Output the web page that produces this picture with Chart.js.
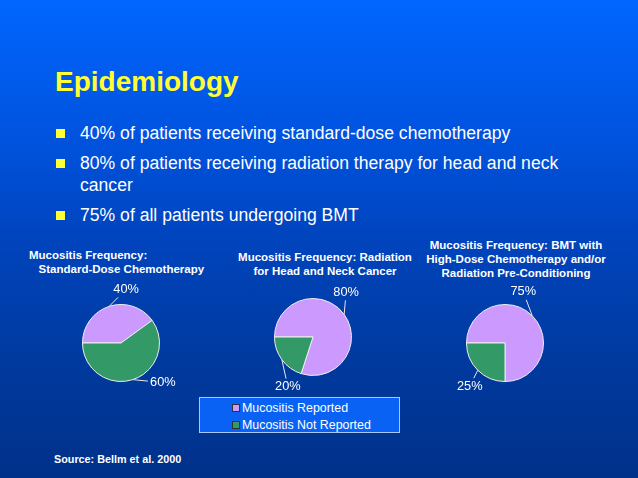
<!DOCTYPE html>
<html>
<head>
<meta charset="utf-8">
<script src="https://cdn.jsdelivr.net/npm/chart.js@4.4.0/dist/chart.umd.min.js"></script>
<style>
  html, body { margin: 0; padding: 0; }
  body {
    width: 638px; height: 478px; position: relative; overflow: hidden;
    background: linear-gradient(to bottom, #0066ff 0%, #0052dd 30%, #0044bd 50%, #003a9f 75%, #00318a 100%);
    font-family: "Liberation Sans", Arial, sans-serif;
    color: #fff;
  }
  .abs { position: absolute; }
  #title { left: 55px; top: 66px; font-size: 28px; font-weight: bold; color: #ffff33; }
  .bullet { left: 80px; font-size: 17.6px; line-height: 22px; }
  .bullet::before {
    content: ""; position: absolute; left: -24px; top: 7px; width: 9px; height: 9px; background: #ffff33;
  }
  .ctitle { font-size: 11.5px; font-weight: bold; line-height: 14px; white-space: pre; }
  canvas { position: absolute; }
  #legend {
    left: 199px; top: 397px; width: 201px; height: 36px;
    background: #0a62f5; border: 1px solid #a9c8ff; box-sizing: border-box;
    font-size: 12.4px;
  }
  .litem { position: absolute; left: 42px; line-height: 14px; }
  .litem span.sw {
    position: absolute; left: -10px; top: 3px; width: 6px; height: 6px; border: 1px solid #333;
  }
  #source { left: 54px; top: 453px; font-size: 10.8px; font-weight: bold; }
</style>
</head>
<body>
<div id="title" class="abs">Epidemiology</div>
<div class="abs bullet" style="top:122px">40% of patients receiving standard-dose chemotherapy</div>
<div class="abs bullet" style="top:152px">80% of patients receiving radiation therapy for head and neck<br>cancer</div>
<div class="abs bullet" style="top:204px">75% of all patients undergoing BMT</div>

<div class="abs ctitle" style="left:29px;top:248px">Mucositis Frequency:
   Standard-Dose Chemotherapy</div>
<div class="abs ctitle" style="left:225px;width:200px;top:250px;text-align:center">Mucositis Frequency: Radiation
for Head and Neck Cancer</div>
<div class="abs ctitle" style="left:416px;width:200px;top:238px;text-align:center">Mucositis Frequency: BMT with
High-Dose Chemotherapy and/or
Radiation Pre-Conditioning</div>

<canvas id="pie1" width="200" height="150" style="left:21px;top:268px"></canvas>
<canvas id="pie2" width="200" height="150" style="left:213px;top:262px"></canvas>
<canvas id="pie3" width="200" height="150" style="left:405px;top:268px"></canvas>

<div id="legend" class="abs"></div>
<div id="source" class="abs">Source: Bellm et al. 2000</div>

<script>
// --- DATA ---
const categories = ['Mucositis Reported', 'Mucositis Not Reported'];
const standardDose = [40, 60];
const headNeck = [80, 20];
const bmt = [75, 25];
const valueLabels = ['40%', '60%', '80%', '20%', '75%', '25%'];

const sliceColors = ['#cc99ff', '#339966'];

// label placement relative to the slice anchor on the rim (text centre offset)
const labelShift1 = [[17, -17], [30, 3]];
const labelShift2 = [[2, -22], [6, 27]];
const labelShift3 = [[-9, -24], [-8, 16]];

// --- LEADER LABEL PLUGIN ---
const leaderLabels = {
    id: 'leaderLabels',
    afterDatasetsDraw(chart, args, opts) {
        const ctx = chart.ctx;
        const arcs = chart.getDatasetMeta(0).data;
        ctx.save();
        ctx.font = '12.8px "Liberation Sans", Arial, sans-serif';
        ctx.fillStyle = '#ffffff';
        ctx.strokeStyle = '#e8e8e8';
        ctx.lineWidth = 1;
        ctx.textAlign = 'center';
        ctx.textBaseline = 'middle';
        arcs.forEach((arc, i) => {
            const mid = (arc.startAngle + arc.endAngle) / 2;
            const ax = arc.x + Math.cos(mid) * arc.outerRadius;
            const ay = arc.y + Math.sin(mid) * arc.outerRadius;
            const tx = ax + opts.shift[i][0];
            const ty = ay + opts.shift[i][1];
            // end of leader: where the segment meets the text box
            const hw = 15, hh = 8;
            const dx = ax - tx, dy = ay - ty;
            const s = Math.min(dx ? hw / Math.abs(dx) : Infinity, dy ? hh / Math.abs(dy) : Infinity);
            const ex = tx + dx * s, ey = ty + dy * s;
            ctx.beginPath();
            ctx.moveTo(ax, ay);
            ctx.lineTo(ex, ey);
            ctx.stroke();
            ctx.fillText(opts.labels[i], tx, ty);
        });
        ctx.restore();
    }
};

const makePie = (id, values, labels, shift) => {
    const ctx = document.getElementById(id).getContext('2d');
    return new Chart(ctx, {
        type: 'pie',
        data: {
            labels: categories,
            datasets: [{
                data: values,
                backgroundColor: sliceColors,
                borderColor: '#eeeeee',
                borderWidth: 1
            }]
        },
        options: {
            responsive: false,
            animation: false,
            rotation: 270,
            layout: { padding: { left: 61, right: 61, top: 36, bottom: 36 } },
            plugins: {
                legend: { display: false },
                tooltip: { enabled: false },
                leaderLabels: { labels: labels, shift: shift }
            }
        },
        plugins: [leaderLabels]
    });
};

makePie('pie1', standardDose, valueLabels.slice(0, 2), labelShift1);
makePie('pie2', headNeck, valueLabels.slice(2, 4), labelShift2);
makePie('pie3', bmt, valueLabels.slice(4, 6), labelShift3);

// --- LEGEND ---
const legendBox = document.getElementById('legend');
categories.forEach((name, i) => {
    const item = document.createElement('div');
    item.className = 'litem';
    item.style.top = (3 + i * 17) + 'px';
    item.innerHTML = `<span class="sw" style="background:${sliceColors[i]}"></span>${name}`;
    legendBox.appendChild(item);
});
</script>
</body>
</html>
